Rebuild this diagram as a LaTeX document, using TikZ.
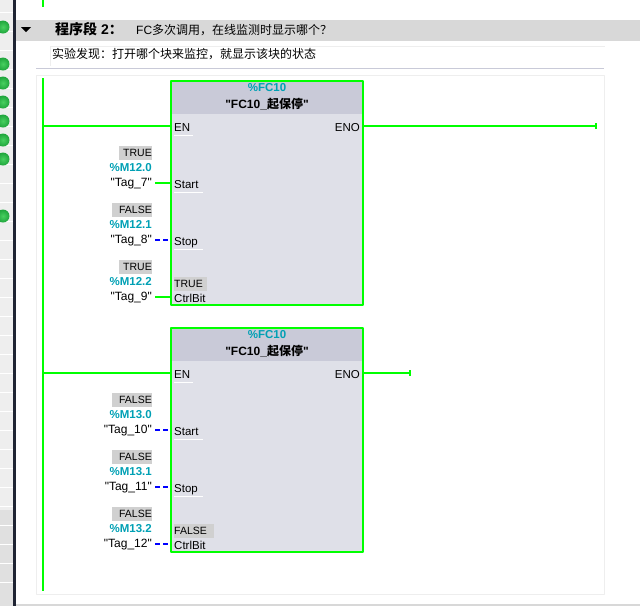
\documentclass[tikz,border=0pt]{standalone}
\usepackage{fontspec}
\defaultfontfeatures[\rmfamily]{}
\setmainfont{Liberation Sans}
\newfontfamily\cjk{Noto Sans CJK SC}
\definecolor{railgreen}{HTML}{00FF00}
\definecolor{wireblue}{HTML}{0000FF}
\definecolor{addrteal}{HTML}{00A0B4}
\definecolor{headgray}{HTML}{C9CAD8}
\definecolor{bodygray}{HTML}{DFE0E8}
\definecolor{valgray}{HTML}{D0D0D0}
\definecolor{bargray}{HTML}{D8D8D8}
\definecolor{framegray}{HTML}{EEEEEE}
\definecolor{ledin}{HTML}{48D060}
\definecolor{ledout}{HTML}{1FA53C}
\definecolor{stripdark}{HTML}{1F2433}
\tikzset{
  wireon/.style={draw=railgreen, line width=2pt},
  wireoff/.style={draw=wireblue, line width=2pt, dash pattern=on 5pt off 3pt},
  fcblock/.style={draw=railgreen, fill=bodygray, line width=2pt, minimum width=192pt, minimum height=224pt, inner sep=0pt},
  fchead/.style={fill=headgray, minimum width=190pt, minimum height=32pt, inner sep=0pt, anchor=north},
  pinname/.style={font=\fontsize{11.5}{12}\selectfont, inner sep=0pt, anchor=base west},
  opname/.style={font=\fontsize{12}{12}\selectfont, inner xsep=3pt, inner ysep=0pt, text height=8pt, text depth=2pt, anchor=east},
  opaddr/.style={font=\fontsize{11.5}{12}\selectfont\bfseries, text=addrteal, inner sep=0pt, anchor=base east},
  valbox/.style={fill=valgray, font=\fontsize{10.5}{12}\selectfont, inner sep=0pt, minimum height=14pt, align=right}
}
\begin{document}
\begin{tikzpicture}[x=1pt, y=-1pt, line join=round]
	\useasboundingbox (0,0) rectangle (640,606);
	% left strip with status lamps
	\fill[framegray] (0,0) rectangle (13,606);
	\fill[bargray!80!white] (0,510) rectangle (13,606);
	\foreach \yy in {12,31,...,600} \draw[white] (0,\yy) -- (13,\yy);
	\fill[stripdark] (13,0) rectangle (16,606);
	\begin{scope}
		\clip (0,0) rectangle (13,606);
		\foreach \yy in {27,64,83,102,121,140,159,216} \shade[inner color=ledin, outer color=ledout] (3,\yy) circle (6.5);
	\end{scope}
	\fill[bargray] (16,604) rectangle (640,606);
	% title bars
	\draw[wireon] (43,0) -- (43,7);
	\fill[bargray] (16,20) rectangle (640,41);
	\fill[black] (21,27) -- (31,27) -- (26,32) -- cycle;
	\node[anchor=base west, inner sep=0pt, font=\fontsize{14}{16}\selectfont\bfseries] (nettitle) at (55,34) {{\cjk 程序段} 2{\cjk ：}};
	\node[anchor=base west, inner sep=0pt, font=\fontsize{12}{14}\selectfont] (netdesc) at (136,34) {FC{\cjk 多次调用，在线监测时显示哪个？}};
	\draw[framegray] (605,46) -- (50.5,46) -- (50.5,66);
	\node[anchor=base west, inner sep=0pt, font=\fontsize{12}{14}\selectfont\cjk] (netnote) at (52,58.5) {实验发现：打开哪个块来监控，就显示该块的状态};
	\draw[headgray] (36,68.5) -- (604,68.5);
	\draw[framegray] (36.5,75.5) rectangle (604.5,594);
	% rail
	\coordinate (railtop) at (43,78);
	\coordinate (railend) at (43,591);
	\draw[wireon] (railtop) -- (railend);
	% the two FC blocks
	\foreach \blk/\topy/\enoend in {A/81/596,B/328/410}{
		\node[fcblock, anchor=north west] (fc\blk) at (170,\topy-1) {};
		\node[fchead] (head\blk) at ([yshift=-2pt]fc\blk.north) {};
		\node[font=\fontsize{11.5}{12}\selectfont\bfseries, text=addrteal, inner sep=0pt, anchor=base] (num\blk) at ([yshift=-11pt]fc\blk.north) {\%FC10};
		\node[font=\fontsize{12}{12}\selectfont\bfseries, inner sep=0pt, anchor=base] (name\blk) at ([yshift=-28pt]fc\blk.north) {"FC10\_{\cjk 起保停}"};
		\node[pinname] (en\blk) at (174,\topy+50) {EN};
		\node[pinname, anchor=base east] (eno\blk) at (360,\topy+50) {ENO};
		\coordinate (in\blk) at (171,\topy+45);
		\coordinate (out\blk) at (\enoend,\topy+45);
		\draw[wireon] (railtop |- in\blk) -- (in\blk);
		\draw[wireon] (fc\blk.east |- out\blk) -- (out\blk);
		\draw[railgreen, line width=2pt] ([yshift=-3pt]out\blk) -- ([yshift=3pt]out\blk);
		\draw[white] (174,\topy+54) -- (193,\topy+54);
	}
	% operands
	\foreach \blk/\yy/\pin/\val/\vw/\addr/\tagname/\wire in {
		A/183/Start/TRUE/33/M12.0/Tag\_7/wireon,
		A/240/Stop/FALSE/40/M12.1/Tag\_8/wireoff,
		A/297/CtrlBit/TRUE/33/M12.2/Tag\_9/wireon,
		B/430/Start/FALSE/40/M13.0/Tag\_10/wireoff,
		B/487/Stop/FALSE/40/M13.1/Tag\_11/wireoff,
		B/544/CtrlBit/FALSE/40/M13.2/Tag\_12/wireoff}{
		\node[opname] (tag\yy) at (155,\yy) {"\tagname"};
		\node[opaddr] (addr\yy) at (152,\yy-12) {\%\addr};
		\node[valbox, text width=\vw pt, anchor=east] (val\yy) at (152,\yy-30) {\val};
		\node[pinname] (pin\yy) at (174,\yy+5) {\pin};
		\draw[\wire] (tag\yy.east) -- (tag\yy.east -| fc\blk.west);
	}
	\foreach \yy in {183,240,430,487} \draw[white] (174,\yy+9) -- (203,\yy+9);
	% value shown inside the block
	\node[valbox, text width=33pt, align=left, anchor=west] (ctrlA) at (174,284) {TRUE};
	\node[valbox, text width=40pt, align=left, anchor=west] (ctrlB) at (174,531) {FALSE};
\end{tikzpicture}
\end{document}
